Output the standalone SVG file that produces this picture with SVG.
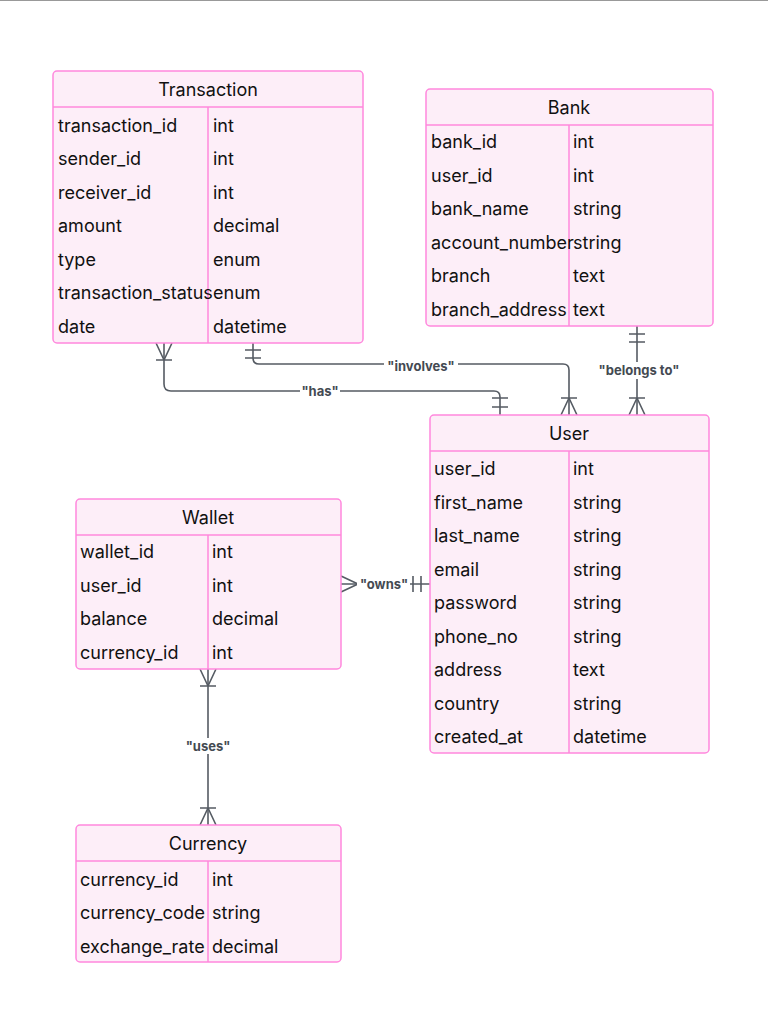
<svg xmlns="http://www.w3.org/2000/svg" width="768" height="1024" viewBox="0 0 768 1024">
<style>
.box{fill:#fdeef8;stroke:#ff88dd;stroke-width:1.5}
.ln{stroke:#ff88dd;stroke-width:1.5}
.t{font-family:Inter,"Liberation Sans",sans-serif;font-size:18px;fill:#111}
.h{font-family:Inter,"Liberation Sans",sans-serif;font-size:18px;fill:#111;text-anchor:middle}
.c{fill:none;stroke:#555b63;stroke-width:1.6}
.lb{font-family:Inter,"Liberation Sans",sans-serif;font-size:13px;font-weight:bold;fill:#444a52;text-anchor:middle}
.lbg{fill:#fff}
</style>
<rect width="768" height="1024" fill="#fff"/>
<line x1="0" y1="0.5" x2="768" y2="0.5" stroke="#999"/>
<g id="connectors">
<path class="c" d="M164,343 V384 Q164,391 171,391 H494 Q500,391 500,397 V415"/>
<path class="c" d="M164,360 L156,343 M164,360 L172,343 M156,360 H172"/>
<path class="c" d="M492,398 H508 M492,407 H508"/>
<rect class="lbg" x="300" y="383" width="40" height="16"/>
<text class="lb" x="320" y="396">"has"</text>
<path class="c" d="M253,343 V358 Q253,364 259,364 H563 Q569,364 569,370 V415"/>
<path class="c" d="M245,350 H261 M245,358 H261"/>
<path class="c" d="M569,398 L561,415 M569,398 L577,415 M561,398 H577"/>
<rect class="lbg" x="384" y="358" width="74" height="16"/>
<text class="lb" x="421" y="371">"involves"</text>
<path class="c" d="M637,326 V415"/>
<path class="c" d="M629,334 H645 M629,342 H645"/>
<path class="c" d="M637,398 L629,415 M637,398 L645,415 M629,398 H645"/>
<rect class="lbg" x="595" y="362" width="88" height="17"/>
<text class="lb" x="639" y="375">"belongs to"</text>
<path class="c" d="M341,584 H430"/>
<path class="c" d="M358,584 L341,576 M358,584 L341,592 M358,576 V592"/>
<path class="c" d="M413,576 V592 M421,576 V592"/>
<rect class="lbg" x="357" y="576" width="53" height="16"/>
<text class="lb" x="384" y="589">"owns"</text>
<path class="c" d="M208,669 V825"/>
<path class="c" d="M208,686 L200,669 M208,686 L216,669 M200,686 H216"/>
<path class="c" d="M208,808 L200,825 M208,808 L216,825 M200,808 H216"/>
<rect class="lbg" x="182" y="738" width="52" height="16"/>
<text class="lb" x="208" y="751">"uses"</text>
</g>
<g id="Transaction">
<rect class="box" x="53" y="71" width="310" height="272" rx="4"/>
<line class="ln" x1="53" y1="107" x2="363" y2="107"/>
<line class="ln" x1="208" y1="107" x2="208" y2="343"/>
<text class="h" x="208" y="96">Transaction</text>
<g class="t">
<text x="58" y="132">transaction_id</text><text x="213" y="132">int</text>
<text x="58" y="165">sender_id</text><text x="213" y="165">int</text>
<text x="58" y="199">receiver_id</text><text x="213" y="199">int</text>
<text x="58" y="232">amount</text><text x="213" y="232">decimal</text>
<text x="58" y="266">type</text><text x="213" y="266">enum</text>
<text x="58" y="299">transaction_status</text><text x="213" y="299">enum</text>
<text x="58" y="333">date</text><text x="213" y="333">datetime</text>
</g>
</g>
<g id="Bank">
<rect class="box" x="426" y="89" width="287" height="237" rx="4"/>
<line class="ln" x1="426" y1="125" x2="713" y2="125"/>
<line class="ln" x1="569" y1="125" x2="569" y2="326"/>
<text class="h" x="569" y="114">Bank</text>
<g class="t">
<text x="431" y="148">bank_id</text><text x="573" y="148">int</text>
<text x="431" y="182">user_id</text><text x="573" y="182">int</text>
<text x="431" y="215">bank_name</text><text x="573" y="215">string</text>
<text x="431" y="249">account_number</text><text x="573" y="249">string</text>
<text x="431" y="282">branch</text><text x="573" y="282">text</text>
<text x="431" y="316">branch_address</text><text x="573" y="316">text</text>
</g>
</g>
<g id="User">
<rect class="box" x="430" y="415" width="279" height="338" rx="4"/>
<line class="ln" x1="430" y1="451" x2="709" y2="451"/>
<line class="ln" x1="569" y1="451" x2="569" y2="753"/>
<text class="h" x="569" y="440">User</text>
<g class="t">
<text x="434" y="475">user_id</text><text x="573" y="475">int</text>
<text x="434" y="509">first_name</text><text x="573" y="509">string</text>
<text x="434" y="542">last_name</text><text x="573" y="542">string</text>
<text x="434" y="576">email</text><text x="573" y="576">string</text>
<text x="434" y="609">password</text><text x="573" y="609">string</text>
<text x="434" y="643">phone_no</text><text x="573" y="643">string</text>
<text x="434" y="676">address</text><text x="573" y="676">text</text>
<text x="434" y="710">country</text><text x="573" y="710">string</text>
<text x="434" y="743">created_at</text><text x="573" y="743">datetime</text>
</g>
</g>
<g id="Wallet">
<rect class="box" x="76" y="499" width="265" height="170" rx="4"/>
<line class="ln" x1="76" y1="535" x2="341" y2="535"/>
<line class="ln" x1="208" y1="535" x2="208" y2="669"/>
<text class="h" x="208" y="524">Wallet</text>
<g class="t">
<text x="80" y="558">wallet_id</text><text x="212" y="558">int</text>
<text x="80" y="592">user_id</text><text x="212" y="592">int</text>
<text x="80" y="625">balance</text><text x="212" y="625">decimal</text>
<text x="80" y="659">currency_id</text><text x="212" y="659">int</text>
</g>
</g>
<g id="Currency">
<rect class="box" x="76" y="825" width="265" height="137" rx="4"/>
<line class="ln" x1="76" y1="861" x2="341" y2="861"/>
<line class="ln" x1="208" y1="861" x2="208" y2="962"/>
<text class="h" x="208" y="850">Currency</text>
<g class="t">
<text x="80" y="886">currency_id</text><text x="212" y="886">int</text>
<text x="80" y="919">currency_code</text><text x="212" y="919">string</text>
<text x="80" y="953">exchange_rate</text><text x="212" y="953">decimal</text>
</g>
</g>
</svg>
